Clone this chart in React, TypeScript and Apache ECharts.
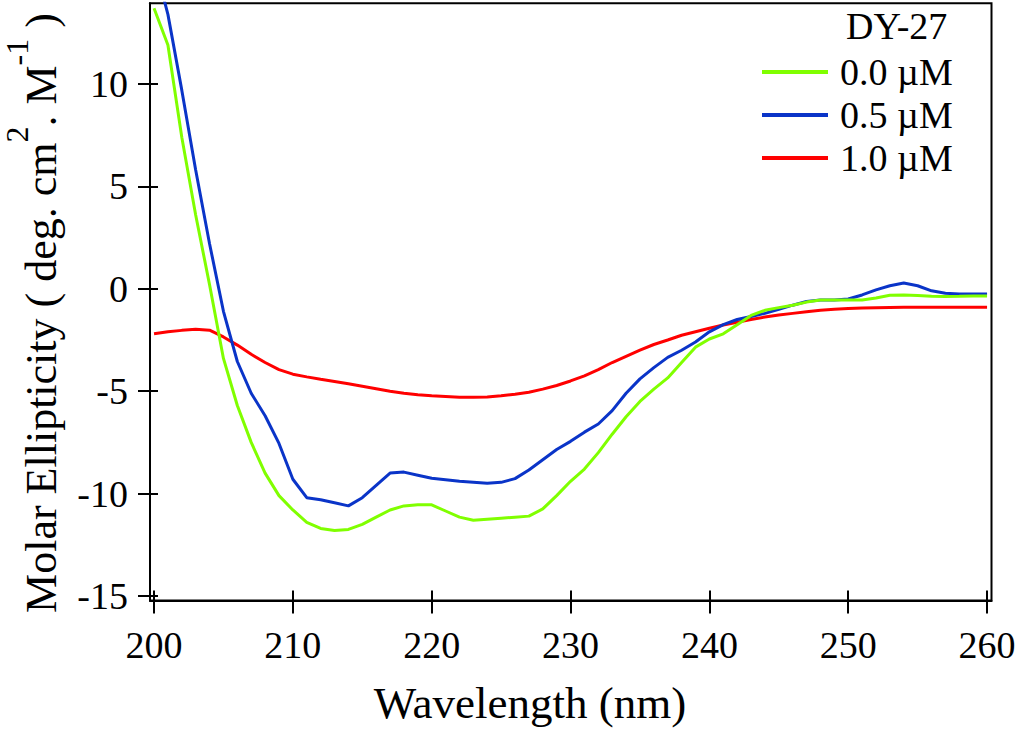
import { useEffect, useRef } from "react";
import * as echarts from "echarts";

const wavelengths = [
  200, 201, 202, 203, 204, 205, 206, 207, 208, 209,
  210, 211, 212, 213, 214, 215, 216, 217, 218, 219,
  220, 221, 222, 223, 224, 225, 226, 227, 228, 229,
  230, 231, 232, 233, 234, 235, 236, 237, 238, 239,
  240, 241, 242, 243, 244, 245, 246, 247, 248, 249,
  250, 251, 252, 253, 254, 255, 256, 257, 258, 259, 260,
];

const conc00 = [
  13.7, 11.9, 7.4, 3.6, 0.2, -3.4, -5.7, -7.5, -9.0, -10.1,
  -10.8, -11.4, -11.7, -11.8, -11.75, -11.5, -11.15, -10.8, -10.6, -10.55,
  -10.55, -10.85, -11.15, -11.3, -11.25, -11.2, -11.15, -11.1, -10.75, -10.1,
  -9.4, -8.8, -8.0, -7.1, -6.25, -5.5, -4.9, -4.35, -3.6, -2.85,
  -2.45, -2.2, -1.75, -1.3, -1.05, -0.92, -0.8, -0.65, -0.55, -0.55,
  -0.55, -0.55, -0.45, -0.32, -0.3, -0.33, -0.36, -0.38, -0.37, -0.35, -0.35,
];

const conc05 = [
  16.0, 13.4, 9.7, 5.8, 2.2, -1.1, -3.55, -5.1, -6.2, -7.55,
  -9.3, -10.2, -10.3, -10.45, -10.6, -10.2, -9.6, -9.0, -8.95, -9.1,
  -9.25, -9.32, -9.4, -9.45, -9.5, -9.45, -9.27, -8.85, -8.35, -7.85,
  -7.45, -7.0, -6.6, -5.95, -5.1, -4.4, -3.85, -3.35, -3.0, -2.6,
  -2.1, -1.75, -1.5, -1.35, -1.2, -1.0, -0.8, -0.62, -0.55, -0.55,
  -0.5, -0.3, -0.05, 0.15, 0.28, 0.15, -0.1, -0.22, -0.25, -0.25, -0.25,
];

const conc10 = [
  -2.2, -2.1, -2.03, -1.98, -2.02, -2.35, -2.75, -3.2, -3.6, -3.95,
  -4.17, -4.3, -4.42, -4.53, -4.64, -4.76, -4.88, -5.0, -5.1, -5.17,
  -5.22, -5.26, -5.3, -5.3, -5.28, -5.22, -5.15, -5.05, -4.9, -4.72,
  -4.5, -4.25, -3.95, -3.6, -3.3, -3.0, -2.72, -2.5, -2.27, -2.1,
  -1.93, -1.77, -1.63, -1.5, -1.38, -1.28, -1.2, -1.12, -1.05, -1.0,
  -0.96, -0.94, -0.92, -0.91, -0.9, -0.9, -0.9, -0.9, -0.9, -0.9, -0.9,
];

const seriesNames = ["0.0 µM", "0.5 µM", "1.0 µM"];
const seriesColors = ["#80ff00", "#0a34c8", "#ff0000"];
const xTicks = [200, 210, 220, 230, 240, 250, 260];
const yTicks = [-15, -10, -5, 0, 5, 10];
const legendTitle = "DY-27";
const xTitle = "Wavelength (nm)";

export default function App() {
  const ref = useRef<HTMLDivElement>(null);

  useEffect(() => {
    const chart = echarts.init(ref.current!, null, { renderer: "svg" });
    const font = "'Liberation Serif', 'Times New Roman', serif";
    const black = "#000";
    const xMin = 199.71;
    const xMax = 260.32;
    const yMin = -15.22;
    const yMax = 13.94;

    const tickLine = { color: black, width: 2 };

    chart.setOption({
      animation: false,
      backgroundColor: "#fff",
      grid: {
        left: 150,
        right: 28.5,
        top: 3.3,
        bottom: 132.5,
        show: true,
        borderColor: black,
        borderWidth: 2,
      },
      xAxis: [
        {
          type: "value",
          min: xMin,
          max: xMax,
          position: "bottom",
          axisLine: { show: true, onZero: false, lineStyle: { color: black, width: 2 } },
          axisTick: { show: true, inside: false, length: 13, customValues: xTicks, lineStyle: tickLine },
          axisLabel: { customValues: xTicks, margin: 25, fontSize: 38, fontFamily: font, color: black },
          splitLine: { show: false },
        },
        {
          type: "value",
          min: xMin,
          max: xMax,
          position: "bottom",
          axisLine: { show: false, onZero: false },
          axisTick: { show: true, inside: true, length: 10, customValues: xTicks, lineStyle: tickLine },
          axisLabel: { show: false },
          splitLine: { show: false },
        },
      ],
      yAxis: [
        {
          type: "value",
          min: yMin,
          max: yMax,
          position: "left",
          axisLine: { show: true, onZero: false, lineStyle: { color: black, width: 2 } },
          axisTick: { show: true, inside: false, length: 12, customValues: yTicks, lineStyle: tickLine },
          axisLabel: { customValues: yTicks, margin: 22, fontSize: 38, fontFamily: font, color: black },
          splitLine: { show: false },
        },
        {
          type: "value",
          min: yMin,
          max: yMax,
          position: "left",
          axisLine: { show: false, onZero: false },
          axisTick: { show: true, inside: true, length: 8, customValues: yTicks, lineStyle: tickLine },
          axisLabel: { show: false },
          splitLine: { show: false },
        },
      ],
      legend: {
        orient: "vertical",
        left: 757,
        top: 45.5,
        icon: "rect",
        itemWidth: 66,
        itemHeight: 4,
        itemGap: 0,
        textStyle: {
          fontSize: 38,
          fontFamily: font,
          color: black,
          lineHeight: 43,
          padding: [0, 0, 0, 7],
        },
        data: seriesNames,
      },
      series: [conc00, conc05, conc10].map((vals, i) => ({
        name: seriesNames[i],
        type: "line",
        xAxisIndex: 0,
        yAxisIndex: 0,
        symbol: "none",
        clip: true,
        color: seriesColors[i],
        lineStyle: { color: seriesColors[i], width: 3 },
        data: wavelengths.map((w, j) => [w, vals[j]]),
        z: 3 - i + 2,
      })),
      graphic: [
        {
          type: "text",
          left: 846,
          top: 7,
          style: { text: legendTitle, fontSize: 38, fontFamily: font, fill: black },
        },
        {
          type: "text",
          x: 530,
          y: 703,
          style: {
            text: xTitle,
            fontSize: 45,
            fontFamily: font,
            fill: black,
            align: "center",
            verticalAlign: "middle",
          },
        },
        {
          type: "text",
          x: 41,
          y: 313,
          rotation: Math.PI / 2,
          style: {
            text: "{n|Molar Ellipticity ( deg. cm}{sup|2}{n|. M}{sup|-1}{n| )}",
            fontFamily: font,
            fill: black,
            align: "center",
            verticalAlign: "middle",
            rich: {
              n: {
                fontSize: 44,
                fontFamily: font,
                fill: black,
                lineHeight: 44,
              },
              sup: {
                fontSize: 32,
                fontFamily: font,
                fill: black,
                lineHeight: 32,
                padding: [0, 0, 48, 0],
              },
            },
          },
        },
      ],
    });

    return () => chart.dispose();
  }, []);

  return (
    <div
      ref={ref}
      style={{ position: "absolute", left: 0, top: 0, width: 1020, height: 733, background: "#fff" }}
    />
  );
}
